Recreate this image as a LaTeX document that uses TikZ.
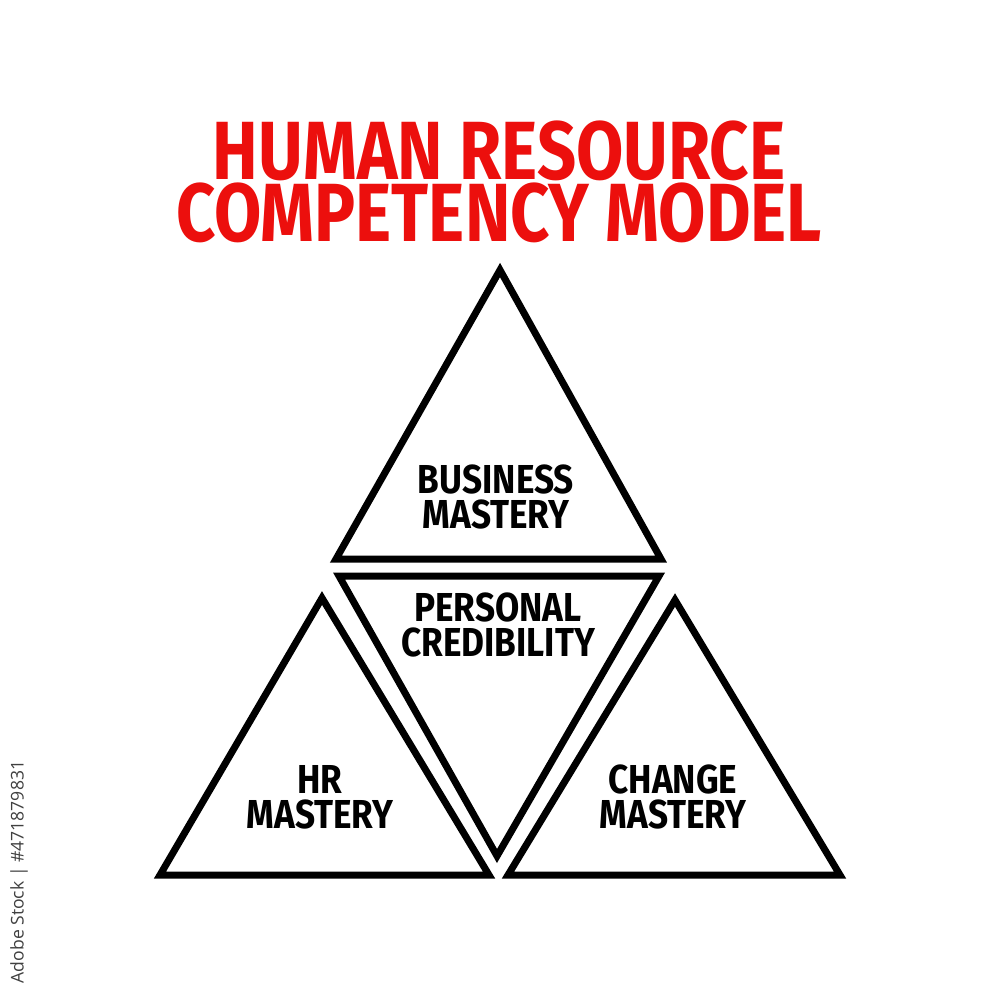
\documentclass[tikz,border=0pt]{standalone}
\usepackage{fontspec}
\setmainfont{Fira Sans}
\newfontfamily\stockfont{Open Sans}
\newlength{\du}
\setlength{\du}{1mm}

\begin{document}
\begin{tikzpicture}[
  tri/.style={draw=dialinecolor, line width=0.7\du, line join=miter},
  heading/.style={text=titlered, font=\bfseries\fontsize{23.5}{17.6}\selectfont, align=center, xscale=0.83, inner sep=0pt, text depth=0pt},
  label/.style={text=black, font=\bfseries\fontsize{11.5}{10}\selectfont, align=center, xscale=0.87, inner sep=0pt}]
\pgftransformxscale{1.000000}
\pgftransformyscale{-1.000000}
\definecolor{titlered}{rgb}{0.925000, 0.060000, 0.050000}
\definecolor{dialinecolor}{rgb}{1.000000, 1.000000, 1.000000}
\pgfsetfillcolor{dialinecolor}
\useasboundingbox (0.000000\du,0.000000\du) rectangle (100.000000\du,100.000000\du);
\fill (0.000000\du,0.000000\du)--(0.000000\du,100.000000\du)--(100.000000\du,100.000000\du)--(100.000000\du,0.000000\du)--cycle;
\definecolor{dialinecolor}{rgb}{0.000000, 0.000000, 0.000000}
\pgfsetstrokecolor{dialinecolor}
% top triangle
\draw[tri] (50.000000\du,27.000000\du)--(33.600000\du,55.900000\du)--(66.100000\du,55.900000\du)--cycle;
% middle triangle, upside down
\draw[tri] (33.900000\du,57.600000\du)--(65.900000\du,57.600000\du)--(49.700000\du,85.600000\du)--cycle;
% left triangle
\draw[tri] (32.200000\du,59.800000\du)--(16.000000\du,87.500000\du)--(48.900000\du,87.500000\du)--cycle;
% right triangle
\draw[tri] (67.500000\du,60.000000\du)--(50.800000\du,87.500000\du)--(84.000000\du,87.500000\du)--cycle;
% setfont left to latex
\node[heading] (title) at (49.900000\du,18.100000\du){HUMAN RESOURCE\\COMPETENCY MODEL};
% setfont left to latex
\node[label] (business) at (49.600000\du,49.700000\du){BUSINESS\\MASTERY};
% setfont left to latex
\node[label] (personal) at (49.800000\du,62.500000\du){PERSONAL\\CREDIBILITY};
% setfont left to latex
\node[label] (hr) at (32.000000\du,79.700000\du){HR\\MASTERY};
% setfont left to latex
\node[label] (change) at (67.300000\du,79.700000\du){CHANGE\\MASTERY};
% setfont left to latex
\node[text=black!75, font=\stockfont\fontsize{5}{6}\selectfont, rotate=90, inner sep=0pt] (stock) at (1.900000\du,87.200000\du){Adobe Stock | \#471879831};
\end{tikzpicture}
\end{document}
